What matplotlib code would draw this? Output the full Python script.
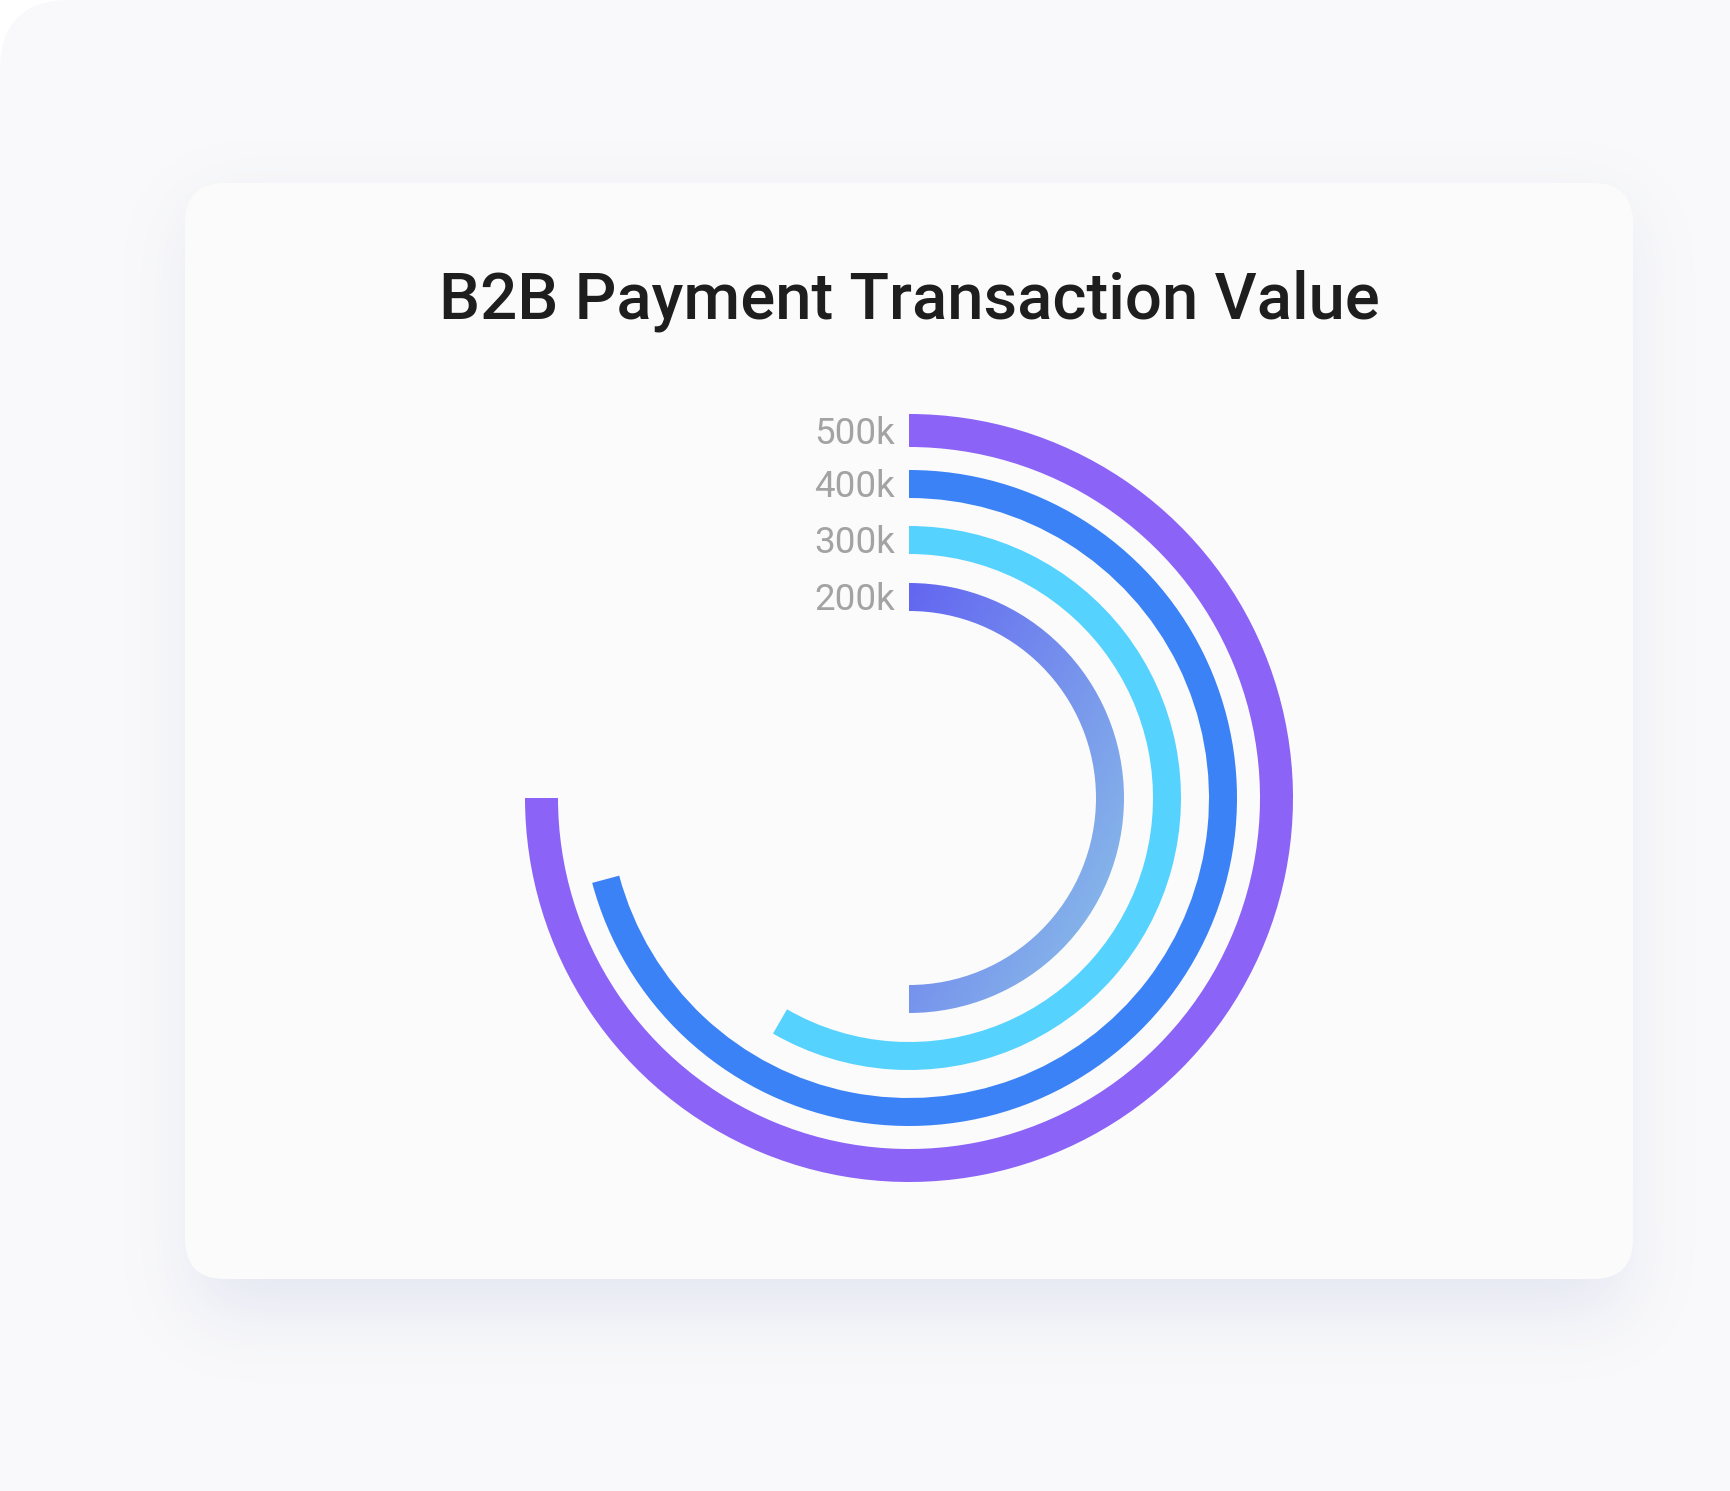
import math
import numpy as np
import matplotlib
matplotlib.use("Agg")
import matplotlib.pyplot as plt
from matplotlib.patches import Wedge, FancyBboxPatch
from matplotlib.colors import LinearSegmentedColormap

W, H = 1731, 1491

# data
title = "B2B Payment Transaction Value"
labels = ["500k", "400k", "300k", "200k"]
values = [450, 425, 350, 300]      # angular axis runs 0..600, full circle
angle_max = 600
colors = ["#8B63F6", "#3B82F6", "#56D2FF", "gradient"]
grad_colors = ["#6366F1", "#8CC4E8"]

# layout (pixels)
cx, cy = 909, H - 798
rings = [(384, 351), (328, 300), (272, 244), (215, 187)]
card = (185, H - 1279, 1448, 1096)

fig = plt.figure(figsize=(W / 100, H / 100), dpi=100, facecolor="white")
ax = fig.add_axes([0, 0, 1, 1])
ax.set_xlim(0, W)
ax.set_ylim(0, H)
ax.axis("off")

# page with rounded top-left corner
page = FancyBboxPatch((0, -300), W + 300, H + 300,
                      boxstyle="round,pad=0,rounding_size=70",
                      fc="#F9F9FB", ec="none", zorder=0)
ax.add_patch(page)

# soft shadow under the card
verf = np.vectorize(math.erf)
def blur_box(coord, a, b, s):
    return 0.5 * (verf((coord - a) / (s * math.sqrt(2))) - verf((coord - b) / (s * math.sqrt(2))))

xs = np.arange(W) + 0.5
ys = np.arange(H) + 0.5
sx0, sy0, sw, sh = card
off = 30
sig = 36
px = blur_box(xs, sx0 + 12, sx0 + sw - 12, sig)
py = blur_box(ys, sy0 - off, sy0 + sh - off, sig)
a = np.outer(py, px) * 0.2
shadow = np.zeros((H, W, 4))
shadow[..., 0] = 0.55
shadow[..., 1] = 0.60
shadow[..., 2] = 0.80
shadow[..., 3] = a
ax.imshow(shadow, extent=(0, W, 0, H), origin="lower", zorder=1,
          interpolation="bilinear", aspect="auto")

card_patch = FancyBboxPatch((card[0], card[1]), card[2], card[3],
                            boxstyle="round,pad=0,rounding_size=40",
                            fc="#FBFBFB", ec="none", zorder=2)
ax.add_patch(card_patch)

# title
ax.text(cx, H - 318, title, ha="center", va="baseline", fontsize=47,
        fontweight="medium", family="Roboto", color="#1E1E1E", zorder=5)

# radial bars, clockwise from 12 o'clock
grad_cmap = LinearSegmentedColormap.from_list("grad", grad_colors)
for lab, v, col, (ro, ri) in zip(labels, values, colors, rings):
    sweep = v / angle_max * 360.0
    if col == "gradient":
        w = Wedge((cx, cy), ro, 90 - sweep, 90, width=ro - ri,
                  fc="none", ec="none", zorder=3)
        ax.add_patch(w)
        ext = w.get_path().get_extents()
        n = 300
        u = np.linspace(0, 1, n)
        U, V = np.meshgrid(u, u)          # V: 0 at top
        t = (U + V) / 2
        im = ax.imshow(grad_cmap(t), extent=(ext.x0, ext.x1, ext.y0, ext.y1),
                       origin="upper", zorder=3, aspect="auto",
                       interpolation="bilinear")
        im.set_clip_path(w)
    else:
        w = Wedge((cx, cy), ro, 90 - sweep, 90, width=ro - ri,
                  fc=col, ec="none", zorder=3)
        ax.add_patch(w)
    ax.text(895, cy + (ro + ri) / 2 - 13, lab, ha="right", va="baseline",
            fontsize=26.5, family="Roboto", color="#A3A3A3", zorder=5)

fig.savefig("out.png", dpi=100, facecolor="white")
